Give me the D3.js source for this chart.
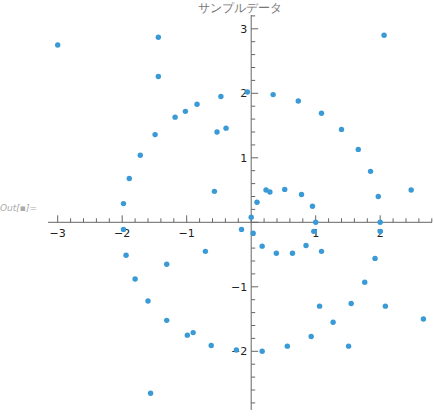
<!DOCTYPE html>
<html>
<head>
<meta charset="utf-8">
<script src="https://cdn.jsdelivr.net/npm/d3@7"></script>
<style>
  body { margin: 0; background: #fff; }
  text { font-family: "DejaVu Sans", sans-serif; }
</style>
</head>
<body>
<div class="chart"></div>
<script>
var title = 'サンプルデータ';
var xTicks = [-3, -2, -1, 1, 2];
var yTicks = [-2, -1, 1, 2, 3];
var xs = [-3.00, -1.44, -1.44, -0.47, -0.84, -1.02, -1.18, -0.39, -0.53, -1.49, -1.72, -1.89, -0.57, -1.98, -0.06,
  0.34, 0.73, 1.09, 1.40, 1.66, 1.85, 1.97, 2.48, 2.06, 0.23, 0.29, 0.52, 0.78, 0.95, 0.09, 0.00, 1.00, 2.00,
  -1.98, -0.15, 0.03, 0.97, 2.00, 0.17, 0.39, 0.64, 0.85, 1.09, -0.71, -1.94, -1.31, 1.92, -1.80, 1.76, -1.60,
  1.55, 1.06, 2.08, -1.31, 1.27, 2.67, -0.99, -0.90, 0.93, -0.62, 0.56, 1.51, -0.23, 0.17, -1.56];
var ys = [2.75, 2.87, 2.26, 1.95, 1.83, 1.72, 1.63, 1.46, 1.40, 1.36, 1.04, 0.68, 0.48, 0.29, 2.02,
  1.98, 1.88, 1.69, 1.44, 1.13, 0.79, 0.40, 0.50, 2.90, 0.50, 0.47, 0.51, 0.43, 0.25, 0.31, 0.08, 0.00, 0.00,
  -0.11, -0.11, -0.17, -0.14, -0.14, -0.37, -0.48, -0.48, -0.36, -0.45, -0.45, -0.51, -0.65, -0.56, -0.88, -0.93, -1.22,
  -1.26, -1.30, -1.30, -1.52, -1.55, -1.50, -1.75, -1.71, -1.77, -1.91, -1.92, -1.92, -1.98, -2.00, -2.65];

var chart = {
  element: '.chart',
  width: 434,
  height: 416,
  x: d3.scaleLinear().domain([-3, 2]).range([57.7, 380.2]),
  y: d3.scaleLinear().domain([-1, 1]).range([286.8, 157.8]),

  draw: function() {
    var self = this;
    var svg = d3.select(this.element).append('svg')
      .attr('width', this.width).attr('height', this.height);

    var x0 = this.x(0), y0 = this.y(0);
    var xl = 48, xr = 432, yt = 15, yb = 410;
    var axisColor = '#666';

    // axes lines
    svg.append('line').attr('x1', xl).attr('x2', xr).attr('y1', y0).attr('y2', y0)
      .attr('stroke', axisColor);
    svg.append('line').attr('x1', x0).attr('x2', x0).attr('y1', yt).attr('y2', yb)
      .attr('stroke', axisColor);

    // minor + major ticks
    var xmin = d3.range(-3, 2.81, 0.2);
    svg.selectAll('.xt').data(xmin).enter().append('line')
      .attr('x1', function(d) { return self.x(d); })
      .attr('x2', function(d) { return self.x(d); })
      .attr('y1', y0)
      .attr('y2', function(d) { return y0 - (Math.abs(d - Math.round(d)) < 1e-6 ? 7 : 4); })
      .attr('stroke', axisColor);
    var ymin = d3.range(-2.8, 3.21, 0.2);
    svg.selectAll('.yt').data(ymin).enter().append('line')
      .attr('y1', function(d) { return self.y(d); })
      .attr('y2', function(d) { return self.y(d); })
      .attr('x1', x0)
      .attr('x2', function(d) { return x0 + (Math.abs(d - Math.round(d)) < 1e-6 ? 7 : 4); })
      .attr('stroke', axisColor);

    svg.selectAll('.xl').data(xTicks).enter().append('text')
      .attr('x', function(d) { return self.x(d); })
      .attr('y', y0 + 15)
      .attr('text-anchor', 'middle')
      .attr('font-size', 11).attr('fill', '#222')
      .text(function(d) { return d < 0 ? '\u2212' + (-d) : d; });
    svg.selectAll('.yl').data(yTicks).enter().append('text')
      .attr('x', x0 - 4)
      .attr('y', function(d) { return self.y(d) + 4; })
      .attr('text-anchor', 'end')
      .attr('font-size', 11).attr('fill', '#222')
      .text(function(d) { return d < 0 ? '\u2212' + (-d) : d; });

    svg.selectAll('circle').data(xs).enter().append('circle')
      .attr('cx', function(d) { return self.x(d); })
      .attr('cy', function(d, i) { return self.y(ys[i]); })
      .attr('r', 2.7)
      .attr('fill', '#3a9ad6');

    svg.append('text').attr('x', 240).attr('y', 12)
      .attr('text-anchor', 'middle').attr('font-size', 12).attr('fill', '#777')
      .attr('font-family', 'Noto Sans CJK JP')
      .text(title);

    svg.append('text').attr('x', 0).attr('y', 211)
      .attr('font-size', 9).attr('fill', '#aaa').attr('font-style', 'italic')
      .text('Out[\u25AA]=');
    return svg;
  }
};
chart.draw();
</script>
</body>
</html>
